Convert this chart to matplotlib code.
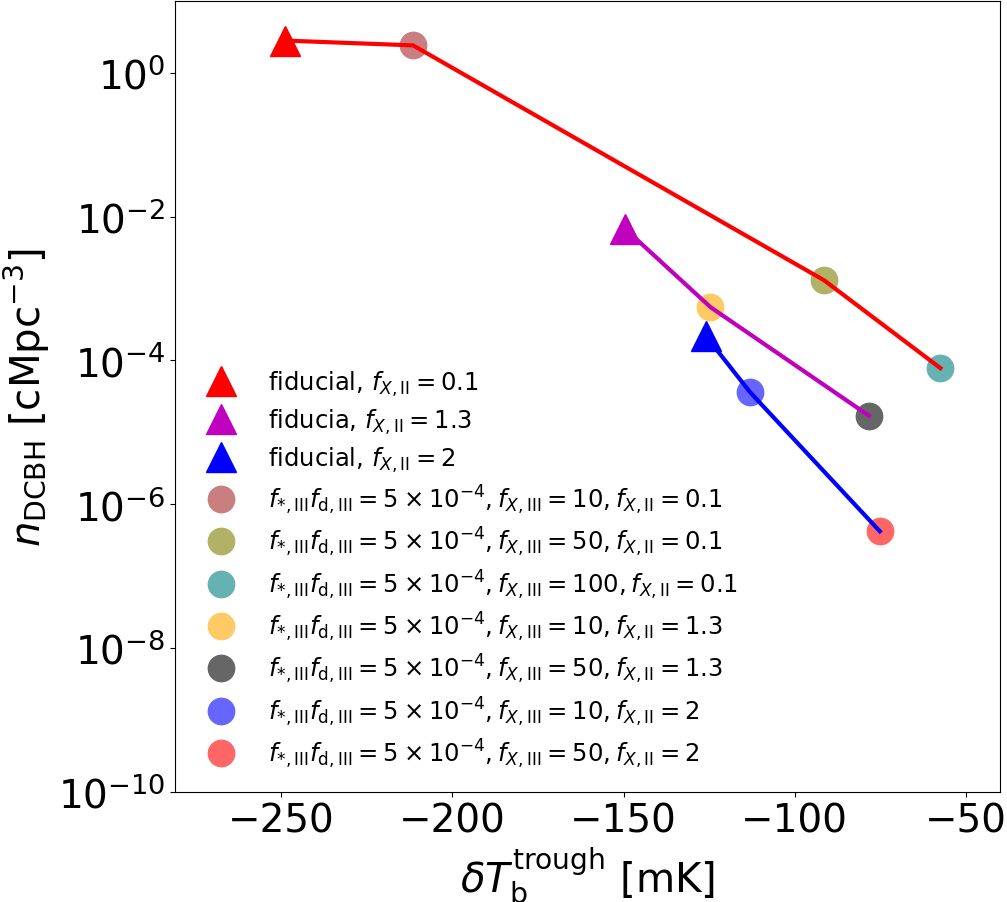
import matplotlib
matplotlib.use('Agg')
import matplotlib.pyplot as plt

# fiducial runs (triangles)
fid_x = [-249, -149.6, -126]
fid_y = [2.8, 6.8e-3, 2.2e-4]
fid_colors = ['red', 'm', 'blue']
fid_labels = [r'fiducial, $f_{X,\rm II}=0.1$',
              r'fiducia, $f_{X,\rm II}=1.3$',
              r'fiducial, $f_{X,\rm II}=2$']

# varied runs (circles)
var_x = [-211.5, -91.4, -57.4, -124.6, -78.3, -113, -75.1]
var_y = [2.4, 1.3e-3, 7.8e-5, 5.5e-4, 1.7e-5, 3.6e-5, 4.2e-7]
var_colors = ['brown', 'olive', 'teal', 'orange', 'black', 'blue', 'red']
fx3 = ['10', '50', '100', '10', '50', '10', '50']
fx2 = ['0.1', '0.1', '0.1', '1.3', '1.3', '2', '2']

# connecting lines: (fiducial index, circle indices)
groups = [(0, [0, 1, 2]), (1, [3, 4]), (2, [5, 6])]

fig = plt.figure(figsize=(10.07, 9.03), dpi=100)
ax = fig.add_axes([0.174, 0.122, 0.819, 0.876])

for i in range(3):
    ax.plot(fid_x[i], fid_y[i], '^', color=fid_colors[i], markersize=21,
            linestyle='none', label=fid_labels[i], zorder=3)

for i in range(7):
    lab = (r'$f_{*,\rm III}f_{\rm d,III}=5\times10^{-4}, f_{X,\rm III}=%s, '
           r'f_{X,\rm II}=%s$' % (fx3[i], fx2[i]))
    ax.plot(var_x[i], var_y[i], 'o', color=var_colors[i], alpha=0.6,
            markersize=20, markeredgewidth=0, linestyle='none', label=lab,
            zorder=3)

for f, idx in groups:
    xs = [fid_x[f]] + [var_x[j] for j in idx]
    ys = [fid_y[f]] + [var_y[j] for j in idx]
    ax.plot(xs, ys, '-', color=fid_colors[f], linewidth=3, zorder=4)

ax.set_yscale('log')
ax.set_xlim(-281, -40)
ax.set_ylim(1e-10, 10)
ax.set_yticks([1e0, 1e-2, 1e-4, 1e-6, 1e-8, 1e-10])
ax.minorticks_off()
ax.tick_params(labelsize=28)
ax.set_xlabel(r'$\delta T_{\rm b}^{\rm trough}$ [mK]', fontsize=29)
ax.set_ylabel(r'$n_{\rm DCBH}$ [cMpc$^{-3}$]', fontsize=29)
ax.legend(loc='lower left', fontsize=17.5, frameon=False, handletextpad=0.9,
          handlelength=2.0, labelspacing=0.37, borderaxespad=0.5)

fig.savefig('out.png', dpi=100)
